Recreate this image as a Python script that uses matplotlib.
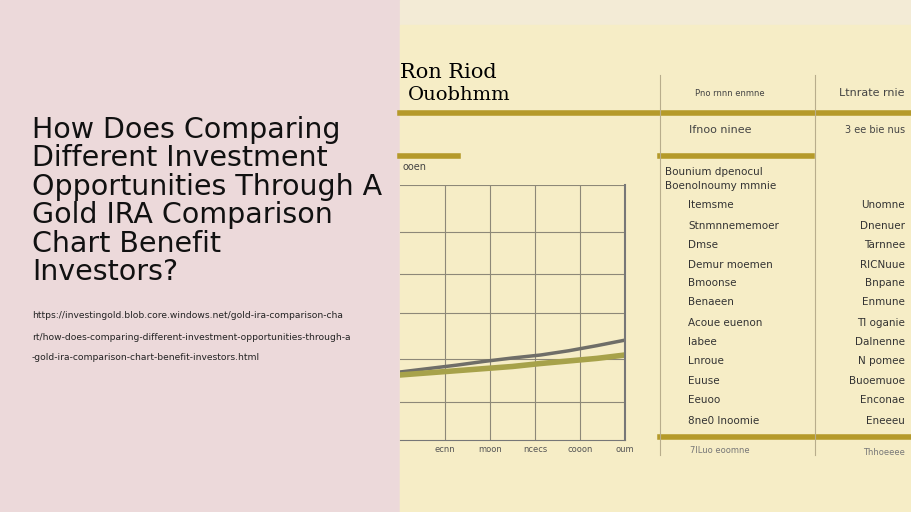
import matplotlib

matplotlib.use("Agg")
import matplotlib.pyplot as plt
from matplotlib.patches import Rectangle

title = ("How Does Comparing\nDifferent Investment\nOpportunities Through A\n"
         "Gold IRA Comparison\nChart Benefit\nInvestors?")
url_lines = [
    "https://investingold.blob.core.windows.net/gold-ira-comparison-cha",
    "rt/how-does-comparing-different-investment-opportunities-through-a",
    "-gold-ira-comparison-chart-benefit-investors.html",
]

# chart in the picture
periods = [0, 1, 2, 3, 4, 5, 6, 7, 8]
gray_line = [1.6, 1.68, 1.76, 1.85, 1.93, 2.0, 2.1, 2.22, 2.35]
olive_line = [1.53, 1.58, 1.63, 1.68, 1.73, 1.8, 1.86, 1.92, 2.0]
x_labels = ["ecnn", "moon", "ncecs", "cooon", "oum"]

row_left = ["Bounium dpenocul", "Boenolnoumy mmnie", "Itemsme", "Stnmnnememoer",
            "Dmse", "Demur moemen", "Bmoonse", "Benaeen", "Acoue euenon",
            "Iabee", "Lnroue", "Euuse", "Eeuoo", "8ne0 Inoomie"]
row_right = ["Unomne", "Dnenuer", "Tarnnee", "RICNuue", "Bnpane",
             "Enmune", "Tl oganie", "Dalnenne", "N pomee", "Buoemuoe",
             "Enconae", "Eneeeu"]

fig = plt.figure(figsize=(9.12, 5.12), dpi=100)
bg = fig.add_axes([0, 0, 1, 1])
bg.set_xlim(0, 912)
bg.set_ylim(512, 0)
bg.axis("off")

bg.add_patch(Rectangle((0, 0), 400, 512, color="#ecd9da"))
bg.add_patch(Rectangle((400, 0), 512, 512, color="#f3ebd6"))
bg.add_patch(Rectangle((400, 25), 512, 487, color="#f6edc6"))

bg.text(32, 116, title, fontsize=20.5, va="top", ha="left", color="#111111",
        linespacing=1.02)
for i, line in enumerate(url_lines):
    bg.text(32, 316 + i * 21, line, fontsize=6.6, va="center", color="#222222")

gold = "#b59a2a"
bg.plot([400, 912], [113, 113], color=gold, lw=4)
bg.plot([400, 458], [156, 156], color=gold, lw=4)
bg.plot([660, 812], [156, 156], color=gold, lw=4)
bg.plot([660, 912], [437, 437], color=gold, lw=4)
bg.plot([660, 660], [75, 455], color="#b8ad8c", lw=0.8)
bg.plot([815, 815], [75, 455], color="#b8ad8c", lw=0.8)

bg.text(400, 72, "Ron Riod", fontsize=15, family="DejaVu Serif", va="center")
bg.text(408, 95, "Ouobhmm", fontsize=14, family="DejaVu Serif", va="center")
bg.text(730, 96, "Pno rnnn enmne", fontsize=6, ha="center", color="#444")
bg.text(905, 96, "Ltnrate rnie", fontsize=8, ha="right", color="#444")
bg.text(720, 133, "Ifnoo ninee", fontsize=8, ha="center", color="#444")
bg.text(905, 133, "3 ee bie nus", fontsize=7, ha="right", color="#444")
bg.text(403, 170, "ooen", fontsize=7, color="#444")

ys_left = [172, 186, 205, 226, 245, 265, 283, 302, 323, 342, 361, 381, 400, 421]
for i, (y, t) in enumerate(zip(ys_left, row_left)):
    x = 665 if i < 2 else 688
    bg.text(x, y, t, fontsize=7.5, va="center", color="#333")
ys_right = [205, 226, 245, 265, 283, 302, 323, 342, 361, 381, 400, 421]
for y, t in zip(ys_right, row_right):
    bg.text(905, y, t, fontsize=7.5, va="center", ha="right", color="#333")
bg.text(720, 453, "7lLuo eoomne", fontsize=6, ha="center", color="#777")
bg.text(905, 455, "Thhoeeee", fontsize=6, ha="right", color="#777")

ax = fig.add_axes([400 / 912, 1 - 440 / 512, 225 / 912, 255 / 512])
ax.set_facecolor("none")
ax.plot(periods, gray_line, color="#6f6e68", lw=2.5)
ax.plot(periods, olive_line, color="#a7a24a", lw=4)
ax.set_xlim(0, 8)
ax.set_ylim(0, 6)
ax.set_xticks([1.6, 3.2, 4.8, 6.4, 8])
ax.set_xticklabels(x_labels, fontsize=6, color="#555")
ax.set_yticks([0.9, 1.9, 3.0, 3.9, 4.9, 6.0])
ax.tick_params(left=False, labelleft=False, length=0)
ax.grid(True, color="#8d8878", lw=0.8)
for s in ["top", "left"]:
    ax.spines[s].set_visible(False)
ax.spines["right"].set_color("#777")
ax.spines["right"].set_linewidth(1.5)
ax.spines["bottom"].set_color("#777")

fig.savefig("out.png", dpi=100)
